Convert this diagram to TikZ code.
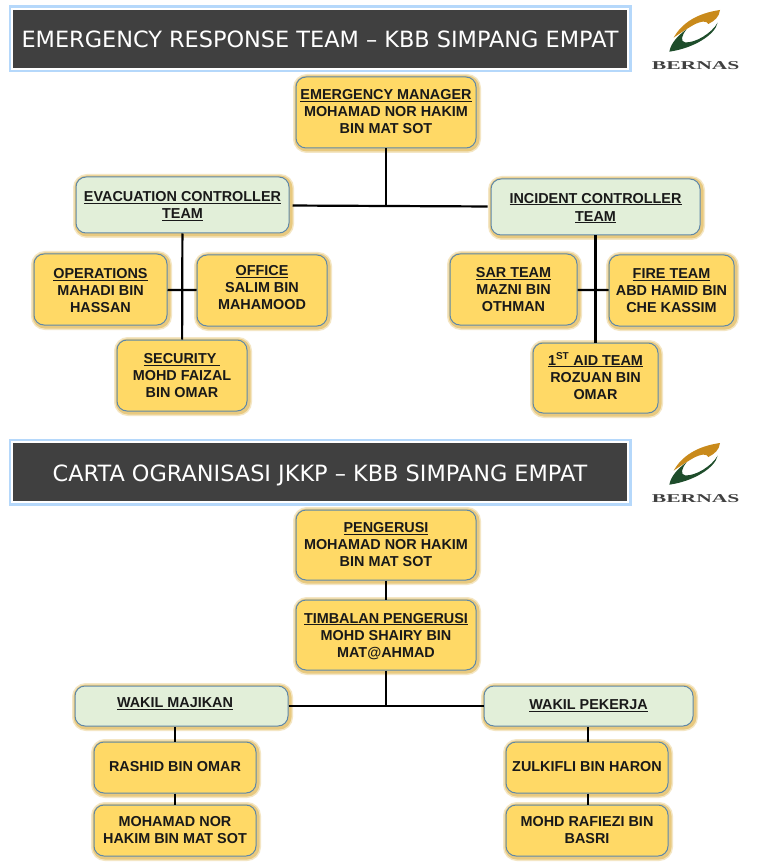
\documentclass[tikz,border=0pt]{standalone}
\usepackage{fontspec}
\setmainfont{Liberation Sans}
\newfontfamily\titlefont{DejaVu Sans}
\newfontfamily\logofont{Liberation Serif}
\usetikzlibrary{calc}
\definecolor{boxyellow}{HTML}{FFD966}
\definecolor{boxgreen}{HTML}{E2EFD9}
\definecolor{boxedge}{HTML}{5F88A8}
\definecolor{boxglow}{HTML}{DDAE3C}
\definecolor{titledark}{HTML}{404040}
\definecolor{titleglow}{HTML}{B5D8FB}
\definecolor{logoorange}{HTML}{C98A1B}
\definecolor{logogreen}{HTML}{1E4D2B}
\tikzset{
   orgbox/.style={draw=boxedge, line width=1pt, rounded corners=10pt, align=center, inner sep=0pt,
      font=\fontsize{14.4}{17}\bfseries, text=black!90,
      preaction={draw=boxglow, draw opacity=.3, line width=8pt, transform canvas={shift={(1pt,-1pt)}}},
      preaction={draw=boxglow, draw opacity=.5, line width=5pt, transform canvas={shift={(1pt,-1pt)}}}},
   person/.style={orgbox, fill=boxyellow},
   teamhead/.style={orgbox, fill=boxgreen},
   sized/.style 2 args={minimum width=#1pt, minimum height=#2pt},
   link/.style={line width=2.2pt, black},
   titlebar/.style={draw=white, line width=1.5pt, fill=titledark, text=white, inner sep=0pt,
      minimum width=616pt, minimum height=60pt, font=\titlefont\fontsize{22.4}{25}\selectfont,
      text height=18pt, text depth=0pt,
      preaction={draw=titleglow, line width=7pt}},
   logotext/.style={font=\logofont\fontsize{12}{12}\selectfont\bfseries, text=black!75, xscale=1.8, inner sep=0pt}
}
\def\lift#1{\rule[-#1pt]{0pt}{0pt}}
\def\drop{\rule{0pt}{12.3pt}}
\def\bernaslogo(#1)#2{
   \begin{scope}[shift={(#1)}, x=0.3333pt, y=-0.3333pt]
     \fill[logoorange] (101,113) .. controls (125,70) and (170,40) .. (240,30)
        .. controls (238,50) and (225,62) .. (205,72)
        .. controls (200,62) and (185,62) .. (160,75)
        .. controls (135,90) and (115,103) .. (101,113) -- cycle;
     \fill[logogreen] (88,155) .. controls (92,130) and (115,105) .. (140,88)
        .. controls (125,105) and (120,125) .. (135,127)
        .. controls (165,130) and (215,100) .. (233,68)
        .. controls (225,105) and (160,145) .. (88,155) -- cycle;
     \node[logotext] (#2) at (167,197) {BERNAS};
   \end{scope}
}

\begin{document}
\begin{tikzpicture}[x=1pt, y=-1pt]
   \useasboundingbox[fill=white] (0,0) rectangle (768,866);

   % first chart
   \node[titlebar] (title1) at (320,39) {EMERGENCY RESPONSE TEAM – KBB SIMPANG EMPAT};
   \bernaslogo(640,0){logo1}

   \node[person, sized={180}{71}] (manager) at (386,112.5) {\underline{EMERGENCY MANAGER}\\MOHAMAD NOR HAKIM\\BIN MAT SOT\lift{2}};
   \node[teamhead, sized={213}{56}] (evac) at (182.5,205) {\drop\underline{EVACUATION CONTROLLER}\\\underline{TEAM}};
   \node[teamhead, sized={209}{56}] (incident) at (595.5,207) {\drop\underline{INCIDENT CONTROLLER}\\[1pt]\underline{TEAM}};

   \node[person, sized={133}{71}] (operations) at (100.5,289.5) {\drop\underline{OPERATIONS}\\MAHADI BIN\\HASSAN};
   \node[person, sized={130}{71}] (office) at (262,290.5) {\underline{OFFICE}\\SALIM BIN\\MAHAMOOD\lift{6}};
   \node[person, sized={130}{71}] (security) at (182,375.5) {\underline{SECURITY\ }\\MOHD FAIZAL\\BIN OMAR};

   \node[person, sized={127}{71}] (sar) at (513.5,289.5) {\underline{SAR TEAM}\\MAZNI BIN\\OTHMAN};
   \node[person, sized={125}{71}] (fire) at (671.5,290.5) {\underline{FIRE TEAM}\\ABD HAMID BIN\\CHE KASSIM};
   \node[person, sized={125}{70}] (aid) at (595.5,378) {\underline{1\textsuperscript{ST} AID TEAM}\\ROZUAN BIN\\OMAR\lift{4}};

   \coordinate (split1) at (386,206);
   \draw[link] (manager) -- (split1);
   \draw[link, shorten <=3pt, shorten >=3pt] (evac) -- (incident);
   \draw[link] (evac) -- (security);
   \draw[link] (operations) -- (office);
   \draw[link] (incident) -- (aid);
   \draw[link] (sar) -- (fire);

   % second chart
   \node[titlebar] (title2) at (320,472) {CARTA OGRANISASI JKKP – KBB SIMPANG EMPAT};
   \bernaslogo(640,433){logo2}

   \node[person, sized={180}{70}] (chair) at (386,545) {\underline{PENGERUSI}\\MOHAMAD NOR HAKIM\\BIN MAT SOT};
   \node[person, sized={180}{70}] (deputy) at (386,635) {\drop\underline{TIMBALAN PENGERUSI}\\MOHD SHAIRY BIN\\MAT@AHMAD};
   \node[teamhead, sized={213}{40}] (employer) at (181.5,706) {\underline{WAKIL MAJIKAN}\hspace*{13pt}\lift{6}};
   \node[teamhead, sized={209}{40}] (worker) at (588.5,706) {\underline{WAKIL PEKERJA}\lift{2}};

   \node[person, sized={162}{51}] (rashid) at (175,767.5) {RASHID BIN OMAR\lift{2}};
   \node[person, sized={162}{51}] (mohamad) at (175,830.5) {MOHAMAD NOR\\HAKIM BIN MAT SOT};
   \node[person, sized={162}{51}] (zulkifli) at (587,767.5) {ZULKIFLI BIN HARON\lift{2}};
   \node[person, sized={162}{51}] (rafiezi) at (587,830.5) {MOHD RAFIEZI BIN\\BASRI};

   \draw[link] (chair) -- (deputy);
   \draw[link] (employer) -- (worker);
   \draw[link] (deputy.south) -- (deputy.south |- employer.east);
   \draw[link] (rashid.north) -- (rashid.north |- employer.south);
   \draw[link] (rashid) -- (mohamad);
   \draw[link] ($(zulkifli.north)+(1,0)$) -- ($(zulkifli.north |- worker.south)+(1,0)$);
   \draw[link] ($(zulkifli.south)+(1,0)$) -- ($(rafiezi.north)+(1,0)$);
\end{tikzpicture}
\end{document}
